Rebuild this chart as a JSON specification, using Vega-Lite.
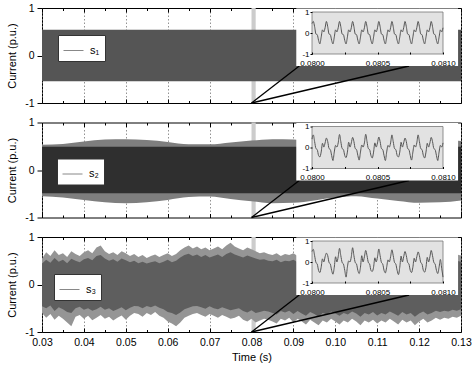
{
"$schema": "https://vega.github.io/schema/vega-lite/v6.json",
"padding": {"left": 6, "top": 2, "right": 0, "bottom": 0},
"spacing": 19.5,
"bounds": "flush",
"resolve": {"scale": {"color": "independent"}, "legend": {"color": "independent"}},
"config": {
  "font": "Liberation Sans",
  "view": {"stroke": "#000000", "strokeWidth": 1},
  "axis": {"labelFont": "Liberation Sans", "titleFont": "Liberation Sans", "labelColor": "#000000", "titleColor": "#000000", "tickColor": "#000000", "domainColor": "#000000", "titleFontWeight": "normal", "labelFontSize": 10.5, "titleFontSize": 11},
  "legend": {"labelFont": "Liberation Sans", "labelColor": "#000000"}
},
"datasets": {
  "zoom": [{"t0": 0.08, "t1": 0.081}],
  "links": [{"x": 0.08, "y": -1, "x2": 0.0914, "y2": -0.221}, {"x": 0.08, "y": -1, "x2": 0.1176, "y2": -0.221}],
  "box": [{"x": 0.07988, "x2": 0.081115, "y": 1.162, "y2": -1.571}],
  "bg": [{"x": 0.08, "x2": 0.081, "y": 1, "y2": -1}],
  "p1": [{"t": 0.03, "hi": 0.54, "lo": -0.54}, {"t": 0.13, "hi": 0.54, "lo": -0.54}],
  "p2c": [{"t": 0.03, "hi": 0.49, "lo": -0.49}, {"t": 0.13, "hi": 0.49, "lo": -0.49}],
  "p2e": [
    {"t": 0.030, "hi": 0.53, "lo": -0.55}, {"t": 0.035, "hi": 0.55, "lo": -0.58}, {"t": 0.040, "hi": 0.60, "lo": -0.63},
    {"t": 0.045, "hi": 0.64, "lo": -0.68}, {"t": 0.050, "hi": 0.65, "lo": -0.70}, {"t": 0.055, "hi": 0.63, "lo": -0.68},
    {"t": 0.060, "hi": 0.59, "lo": -0.63}, {"t": 0.065, "hi": 0.54, "lo": -0.57}, {"t": 0.070, "hi": 0.54, "lo": -0.56},
    {"t": 0.075, "hi": 0.58, "lo": -0.61}, {"t": 0.080, "hi": 0.62, "lo": -0.66}, {"t": 0.085, "hi": 0.65, "lo": -0.70},
    {"t": 0.090, "hi": 0.64, "lo": -0.69}, {"t": 0.095, "hi": 0.60, "lo": -0.64}, {"t": 0.100, "hi": 0.55, "lo": -0.58},
    {"t": 0.105, "hi": 0.53, "lo": -0.55}, {"t": 0.110, "hi": 0.57, "lo": -0.60}, {"t": 0.115, "hi": 0.61, "lo": -0.65},
    {"t": 0.120, "hi": 0.65, "lo": -0.69}, {"t": 0.125, "hi": 0.64, "lo": -0.68}, {"t": 0.130, "hi": 0.61, "lo": -0.64}
  ],
  "p3": [
    {"t": 0.030, "a": 0.55, "b": 0.44, "c": -0.46, "d": -0.60}, {"t": 0.031, "a": 0.68, "b": 0.52, "c": -0.50, "d": -0.70},
    {"t": 0.032, "a": 0.60, "b": 0.46, "c": -0.44, "d": -0.62}, {"t": 0.033, "a": 0.72, "b": 0.56, "c": -0.56, "d": -0.74},
    {"t": 0.034, "a": 0.62, "b": 0.48, "c": -0.48, "d": -0.66}, {"t": 0.035, "a": 0.66, "b": 0.52, "c": -0.52, "d": -0.72},
    {"t": 0.036, "a": 0.58, "b": 0.45, "c": -0.58, "d": -0.80}, {"t": 0.037, "a": 0.70, "b": 0.54, "c": -0.60, "d": -0.88},
    {"t": 0.038, "a": 0.64, "b": 0.50, "c": -0.50, "d": -0.68}, {"t": 0.039, "a": 0.60, "b": 0.47, "c": -0.47, "d": -0.64},
    {"t": 0.040, "a": 0.68, "b": 0.53, "c": -0.53, "d": -0.72}, {"t": 0.041, "a": 0.72, "b": 0.56, "c": -0.50, "d": -0.66},
    {"t": 0.042, "a": 0.66, "b": 0.51, "c": -0.55, "d": -0.75}, {"t": 0.043, "a": 0.78, "b": 0.60, "c": -0.52, "d": -0.70},
    {"t": 0.044, "a": 0.82, "b": 0.62, "c": -0.47, "d": -0.64}, {"t": 0.045, "a": 0.70, "b": 0.55, "c": -0.53, "d": -0.72},
    {"t": 0.046, "a": 0.64, "b": 0.50, "c": -0.50, "d": -0.68}, {"t": 0.047, "a": 0.68, "b": 0.53, "c": -0.56, "d": -0.76},
    {"t": 0.048, "a": 0.62, "b": 0.48, "c": -0.52, "d": -0.70}, {"t": 0.049, "a": 0.70, "b": 0.55, "c": -0.48, "d": -0.65},
    {"t": 0.050, "a": 0.66, "b": 0.51, "c": -0.54, "d": -0.74}, {"t": 0.051, "a": 0.60, "b": 0.47, "c": -0.49, "d": -0.66},
    {"t": 0.052, "a": 0.64, "b": 0.50, "c": -0.45, "d": -0.60}, {"t": 0.053, "a": 0.58, "b": 0.45, "c": -0.46, "d": -0.62},
    {"t": 0.054, "a": 0.62, "b": 0.48, "c": -0.50, "d": -0.68}, {"t": 0.055, "a": 0.56, "b": 0.44, "c": -0.45, "d": -0.60},
    {"t": 0.056, "a": 0.60, "b": 0.47, "c": -0.48, "d": -0.64}, {"t": 0.057, "a": 0.63, "b": 0.49, "c": -0.44, "d": -0.58},
    {"t": 0.058, "a": 0.58, "b": 0.45, "c": -0.49, "d": -0.66}, {"t": 0.059, "a": 0.62, "b": 0.48, "c": -0.52, "d": -0.70},
    {"t": 0.060, "a": 0.66, "b": 0.52, "c": -0.58, "d": -0.78}, {"t": 0.061, "a": 0.60, "b": 0.47, "c": -0.60, "d": -0.82},
    {"t": 0.062, "a": 0.64, "b": 0.50, "c": -0.64, "d": -0.88}, {"t": 0.063, "a": 0.72, "b": 0.57, "c": -0.59, "d": -0.80},
    {"t": 0.064, "a": 0.78, "b": 0.62, "c": -0.52, "d": -0.70}, {"t": 0.065, "a": 0.82, "b": 0.65, "c": -0.49, "d": -0.66},
    {"t": 0.066, "a": 0.76, "b": 0.60, "c": -0.46, "d": -0.62}, {"t": 0.067, "a": 0.80, "b": 0.63, "c": -0.45, "d": -0.60},
    {"t": 0.068, "a": 0.74, "b": 0.58, "c": -0.48, "d": -0.64}, {"t": 0.069, "a": 0.78, "b": 0.62, "c": -0.51, "d": -0.68},
    {"t": 0.070, "a": 0.72, "b": 0.57, "c": -0.46, "d": -0.62}, {"t": 0.071, "a": 0.76, "b": 0.60, "c": -0.50, "d": -0.66},
    {"t": 0.072, "a": 0.80, "b": 0.63, "c": -0.52, "d": -0.70}, {"t": 0.073, "a": 0.74, "b": 0.58, "c": -0.48, "d": -0.64},
    {"t": 0.074, "a": 0.82, "b": 0.64, "c": -0.51, "d": -0.68}, {"t": 0.075, "a": 0.88, "b": 0.68, "c": -0.54, "d": -0.72},
    {"t": 0.076, "a": 0.80, "b": 0.63, "c": -0.52, "d": -0.70}, {"t": 0.077, "a": 0.76, "b": 0.60, "c": -0.50, "d": -0.66},
    {"t": 0.078, "a": 0.72, "b": 0.57, "c": -0.56, "d": -0.74}, {"t": 0.079, "a": 0.78, "b": 0.61, "c": -0.59, "d": -0.78},
    {"t": 0.080, "a": 0.74, "b": 0.58, "c": -0.54, "d": -0.72}, {"t": 0.081, "a": 0.70, "b": 0.55, "c": -0.60, "d": -0.80},
    {"t": 0.082, "a": 0.66, "b": 0.52, "c": -0.58, "d": -0.76}, {"t": 0.083, "a": 0.68, "b": 0.53, "c": -0.55, "d": -0.72},
    {"t": 0.084, "a": 0.64, "b": 0.50, "c": -0.57, "d": -0.74}, {"t": 0.085, "a": 0.62, "b": 0.49, "c": -0.60, "d": -0.78},
    {"t": 0.086, "a": 0.66, "b": 0.52, "c": -0.63, "d": -0.82}, {"t": 0.087, "a": 0.60, "b": 0.47, "c": -0.56, "d": -0.72},
    {"t": 0.088, "a": 0.64, "b": 0.50, "c": -0.59, "d": -0.76}, {"t": 0.089, "a": 0.62, "b": 0.49, "c": -0.55, "d": -0.70},
    {"t": 0.090, "a": 0.66, "b": 0.52, "c": -0.62, "d": -0.80}, {"t": 0.091, "a": 0.60, "b": 0.47, "c": -0.56, "d": -0.72},
    {"t": 0.092, "a": 0.64, "b": 0.50, "c": -0.61, "d": -0.78}, {"t": 0.093, "a": 0.62, "b": 0.49, "c": -0.66, "d": -0.84},
    {"t": 0.094, "a": 0.60, "b": 0.47, "c": -0.58, "d": -0.74}, {"t": 0.095, "a": 0.64, "b": 0.50, "c": -0.62, "d": -0.80},
    {"t": 0.096, "a": 0.62, "b": 0.49, "c": -0.68, "d": -0.86}, {"t": 0.097, "a": 0.60, "b": 0.47, "c": -0.60, "d": -0.76},
    {"t": 0.098, "a": 0.63, "b": 0.50, "c": -0.63, "d": -0.80}, {"t": 0.099, "a": 0.61, "b": 0.48, "c": -0.57, "d": -0.72},
    {"t": 0.100, "a": 0.64, "b": 0.50, "c": -0.61, "d": -0.78}, {"t": 0.101, "a": 0.60, "b": 0.47, "c": -0.66, "d": -0.84},
    {"t": 0.102, "a": 0.63, "b": 0.50, "c": -0.60, "d": -0.76}, {"t": 0.103, "a": 0.61, "b": 0.48, "c": -0.63, "d": -0.80},
    {"t": 0.104, "a": 0.64, "b": 0.50, "c": -0.57, "d": -0.72}, {"t": 0.105, "a": 0.62, "b": 0.49, "c": -0.61, "d": -0.78},
    {"t": 0.106, "a": 0.60, "b": 0.47, "c": -0.68, "d": -0.86}, {"t": 0.107, "a": 0.63, "b": 0.50, "c": -0.60, "d": -0.76},
    {"t": 0.108, "a": 0.61, "b": 0.48, "c": -0.63, "d": -0.80}, {"t": 0.109, "a": 0.64, "b": 0.50, "c": -0.58, "d": -0.74},
    {"t": 0.110, "a": 0.62, "b": 0.49, "c": -0.65, "d": -0.82}, {"t": 0.111, "a": 0.60, "b": 0.47, "c": -0.60, "d": -0.76},
    {"t": 0.112, "a": 0.63, "b": 0.50, "c": -0.63, "d": -0.80}, {"t": 0.113, "a": 0.61, "b": 0.48, "c": -0.57, "d": -0.72},
    {"t": 0.114, "a": 0.64, "b": 0.50, "c": -0.61, "d": -0.78}, {"t": 0.115, "a": 0.62, "b": 0.49, "c": -0.66, "d": -0.84},
    {"t": 0.116, "a": 0.60, "b": 0.47, "c": -0.58, "d": -0.74}, {"t": 0.117, "a": 0.63, "b": 0.50, "c": -0.63, "d": -0.80},
    {"t": 0.118, "a": 0.61, "b": 0.48, "c": -0.60, "d": -0.76}, {"t": 0.119, "a": 0.64, "b": 0.50, "c": -0.68, "d": -0.86},
    {"t": 0.120, "a": 0.62, "b": 0.49, "c": -0.61, "d": -0.78}, {"t": 0.121, "a": 0.60, "b": 0.47, "c": -0.57, "d": -0.72},
    {"t": 0.122, "a": 0.63, "b": 0.50, "c": -0.63, "d": -0.80}, {"t": 0.123, "a": 0.61, "b": 0.48, "c": -0.60, "d": -0.76},
    {"t": 0.124, "a": 0.64, "b": 0.50, "c": -0.55, "d": -0.70}, {"t": 0.125, "a": 0.62, "b": 0.49, "c": -0.58, "d": -0.74},
    {"t": 0.126, "a": 0.66, "b": 0.52, "c": -0.55, "d": -0.70}, {"t": 0.127, "a": 0.62, "b": 0.49, "c": -0.57, "d": -0.72},
    {"t": 0.128, "a": 0.60, "b": 0.47, "c": -0.53, "d": -0.68}, {"t": 0.129, "a": 0.63, "b": 0.50, "c": -0.55, "d": -0.70},
    {"t": 0.130, "a": 0.61, "b": 0.48, "c": -0.52, "d": -0.66}
  ],
  "in1": [
    {"t": 0.08, "v": 0.45},
    {"t": 0.08001, "v": 0.55}, {"t": 0.08002, "v": 0.3}, {"t": 0.08003, "v": -0.05}, {"t": 0.08004, "v": -0.08}, {"t": 0.08005, "v": -0.35}, {"t": 0.08006, "v": -0.52}, {"t": 0.08007, "v": -0.2}, {"t": 0.08008, "v": 0.15}, {"t": 0.08009, "v": 0.05}, {"t": 0.0801, "v": 0.25},
    {"t": 0.08011, "v": 0.55}, {"t": 0.08012, "v": 0.3}, {"t": 0.08013, "v": -0.05}, {"t": 0.08014, "v": -0.08}, {"t": 0.08015, "v": -0.35}, {"t": 0.08016, "v": -0.52}, {"t": 0.08017, "v": -0.2}, {"t": 0.08018, "v": 0.15}, {"t": 0.08019, "v": 0.05}, {"t": 0.0802, "v": 0.25},
    {"t": 0.08021, "v": 0.55}, {"t": 0.08022, "v": 0.3}, {"t": 0.08023, "v": -0.05}, {"t": 0.08024, "v": -0.08}, {"t": 0.08025, "v": -0.35}, {"t": 0.08026, "v": -0.52}, {"t": 0.08027, "v": -0.2}, {"t": 0.08028, "v": 0.15}, {"t": 0.08029, "v": 0.05}, {"t": 0.0803, "v": 0.25},
    {"t": 0.08031, "v": 0.55}, {"t": 0.08032, "v": 0.3}, {"t": 0.08033, "v": -0.05}, {"t": 0.08034, "v": -0.08}, {"t": 0.08035, "v": -0.35}, {"t": 0.08036, "v": -0.52}, {"t": 0.08037, "v": -0.2}, {"t": 0.08038, "v": 0.15}, {"t": 0.08039, "v": 0.05}, {"t": 0.0804, "v": 0.25},
    {"t": 0.08041, "v": 0.55}, {"t": 0.08042, "v": 0.3}, {"t": 0.08043, "v": -0.05}, {"t": 0.08044, "v": -0.08}, {"t": 0.08045, "v": -0.35}, {"t": 0.08046, "v": -0.52}, {"t": 0.08047, "v": -0.2}, {"t": 0.08048, "v": 0.15}, {"t": 0.08049, "v": 0.05}, {"t": 0.0805, "v": 0.25},
    {"t": 0.08051, "v": 0.55}, {"t": 0.08052, "v": 0.3}, {"t": 0.08053, "v": -0.05}, {"t": 0.08054, "v": -0.08}, {"t": 0.08055, "v": -0.35}, {"t": 0.08056, "v": -0.52}, {"t": 0.08057, "v": -0.2}, {"t": 0.08058, "v": 0.15}, {"t": 0.08059, "v": 0.05}, {"t": 0.0806, "v": 0.25},
    {"t": 0.08061, "v": 0.55}, {"t": 0.08062, "v": 0.3}, {"t": 0.08063, "v": -0.05}, {"t": 0.08064, "v": -0.08}, {"t": 0.08065, "v": -0.35}, {"t": 0.08066, "v": -0.52}, {"t": 0.08067, "v": -0.2}, {"t": 0.08068, "v": 0.15}, {"t": 0.08069, "v": 0.05}, {"t": 0.0807, "v": 0.25},
    {"t": 0.08071, "v": 0.55}, {"t": 0.08072, "v": 0.3}, {"t": 0.08073, "v": -0.05}, {"t": 0.08074, "v": -0.08}, {"t": 0.08075, "v": -0.35}, {"t": 0.08076, "v": -0.52}, {"t": 0.08077, "v": -0.2}, {"t": 0.08078, "v": 0.15}, {"t": 0.08079, "v": 0.05}, {"t": 0.0808, "v": 0.25},
    {"t": 0.08081, "v": 0.55}, {"t": 0.08082, "v": 0.3}, {"t": 0.08083, "v": -0.05}, {"t": 0.08084, "v": -0.08}, {"t": 0.08085, "v": -0.35}, {"t": 0.08086, "v": -0.52}, {"t": 0.08087, "v": -0.2}, {"t": 0.08088, "v": 0.15}, {"t": 0.08089, "v": 0.05}, {"t": 0.0809, "v": 0.25},
    {"t": 0.08091, "v": 0.55}, {"t": 0.08092, "v": 0.3}, {"t": 0.08093, "v": -0.05}, {"t": 0.08094, "v": -0.08}, {"t": 0.08095, "v": -0.35}, {"t": 0.08096, "v": -0.52}, {"t": 0.08097, "v": -0.2}, {"t": 0.08098, "v": 0.15}, {"t": 0.08099, "v": 0.05}, {"t": 0.081, "v": 0.25}
  ],
  "in2": [
    {"t": 0.08, "v": 0.4},
    {"t": 0.08001, "v": 0.6}, {"t": 0.08002, "v": 0.28}, {"t": 0.08003, "v": -0.05}, {"t": 0.08004, "v": -0.1}, {"t": 0.08005, "v": -0.38}, {"t": 0.08006, "v": -0.45}, {"t": 0.08007, "v": -0.22}, {"t": 0.08008, "v": 0.2}, {"t": 0.08009, "v": 0.02}, {"t": 0.0801, "v": 0.22},
    {"t": 0.08011, "v": 0.45}, {"t": 0.08012, "v": 0.28}, {"t": 0.08013, "v": -0.05}, {"t": 0.08014, "v": -0.1}, {"t": 0.08015, "v": -0.38}, {"t": 0.08016, "v": -0.62}, {"t": 0.08017, "v": -0.22}, {"t": 0.08018, "v": 0.1}, {"t": 0.08019, "v": 0.02}, {"t": 0.0802, "v": 0.22},
    {"t": 0.08021, "v": 0.62}, {"t": 0.08022, "v": 0.28}, {"t": 0.08023, "v": -0.05}, {"t": 0.08024, "v": -0.1}, {"t": 0.08025, "v": -0.38}, {"t": 0.08026, "v": -0.48}, {"t": 0.08027, "v": -0.22}, {"t": 0.08028, "v": 0.25}, {"t": 0.08029, "v": 0.02}, {"t": 0.0803, "v": 0.22},
    {"t": 0.08031, "v": 0.48}, {"t": 0.08032, "v": 0.28}, {"t": 0.08033, "v": -0.05}, {"t": 0.08034, "v": -0.1}, {"t": 0.08035, "v": -0.38}, {"t": 0.08036, "v": -0.6}, {"t": 0.08037, "v": -0.22}, {"t": 0.08038, "v": 0.12}, {"t": 0.08039, "v": 0.02}, {"t": 0.0804, "v": 0.22},
    {"t": 0.08041, "v": 0.63}, {"t": 0.08042, "v": 0.28}, {"t": 0.08043, "v": -0.05}, {"t": 0.08044, "v": -0.1}, {"t": 0.08045, "v": -0.38}, {"t": 0.08046, "v": -0.5}, {"t": 0.08047, "v": -0.22}, {"t": 0.08048, "v": 0.22}, {"t": 0.08049, "v": 0.02}, {"t": 0.0805, "v": 0.22},
    {"t": 0.08051, "v": 0.5}, {"t": 0.08052, "v": 0.28}, {"t": 0.08053, "v": -0.05}, {"t": 0.08054, "v": -0.1}, {"t": 0.08055, "v": -0.38}, {"t": 0.08056, "v": -0.62}, {"t": 0.08057, "v": -0.22}, {"t": 0.08058, "v": 0.1}, {"t": 0.08059, "v": 0.02}, {"t": 0.0806, "v": 0.22},
    {"t": 0.08061, "v": 0.6}, {"t": 0.08062, "v": 0.28}, {"t": 0.08063, "v": -0.05}, {"t": 0.08064, "v": -0.1}, {"t": 0.08065, "v": -0.38}, {"t": 0.08066, "v": -0.45}, {"t": 0.08067, "v": -0.22}, {"t": 0.08068, "v": 0.25}, {"t": 0.08069, "v": 0.02}, {"t": 0.0807, "v": 0.22},
    {"t": 0.08071, "v": 0.45}, {"t": 0.08072, "v": 0.28}, {"t": 0.08073, "v": -0.05}, {"t": 0.08074, "v": -0.1}, {"t": 0.08075, "v": -0.38}, {"t": 0.08076, "v": -0.6}, {"t": 0.08077, "v": -0.22}, {"t": 0.08078, "v": 0.12}, {"t": 0.08079, "v": 0.02}, {"t": 0.0808, "v": 0.22},
    {"t": 0.08081, "v": 0.6}, {"t": 0.08082, "v": 0.28}, {"t": 0.08083, "v": -0.05}, {"t": 0.08084, "v": -0.1}, {"t": 0.08085, "v": -0.38}, {"t": 0.08086, "v": -0.5}, {"t": 0.08087, "v": -0.22}, {"t": 0.08088, "v": 0.2}, {"t": 0.08089, "v": 0.02}, {"t": 0.0809, "v": 0.22},
    {"t": 0.08091, "v": 0.48}, {"t": 0.08092, "v": 0.28}, {"t": 0.08093, "v": -0.05}, {"t": 0.08094, "v": -0.1}, {"t": 0.08095, "v": -0.38}, {"t": 0.08096, "v": -0.62}, {"t": 0.08097, "v": -0.22}, {"t": 0.08098, "v": 0.1}, {"t": 0.08099, "v": 0.02}, {"t": 0.081, "v": 0.22}
  ],
  "in3": [
    {"t": 0.08, "v": 0.5},
    {"t": 0.08001, "v": 0.6}, {"t": 0.08002, "v": 0.3}, {"t": 0.08003, "v": -0.02}, {"t": 0.08004, "v": -0.1}, {"t": 0.08005, "v": -0.4}, {"t": 0.08006, "v": -0.5}, {"t": 0.08007, "v": -0.25}, {"t": 0.08008, "v": 0.15}, {"t": 0.08009, "v": 0.0}, {"t": 0.0801, "v": 0.25},
    {"t": 0.08011, "v": 0.42}, {"t": 0.08012, "v": 0.3}, {"t": 0.08013, "v": -0.02}, {"t": 0.08014, "v": -0.1}, {"t": 0.08015, "v": -0.4}, {"t": 0.08016, "v": -0.58}, {"t": 0.08017, "v": -0.25}, {"t": 0.08018, "v": 0.25}, {"t": 0.08019, "v": 0.0}, {"t": 0.0802, "v": 0.25},
    {"t": 0.08021, "v": 0.65}, {"t": 0.08022, "v": 0.3}, {"t": 0.08023, "v": -0.02}, {"t": 0.08024, "v": -0.1}, {"t": 0.08025, "v": -0.4}, {"t": 0.08026, "v": -0.72}, {"t": 0.08027, "v": -0.25}, {"t": 0.08028, "v": 0.05}, {"t": 0.08029, "v": 0.0}, {"t": 0.0803, "v": 0.25},
    {"t": 0.08031, "v": 0.68}, {"t": 0.08032, "v": 0.3}, {"t": 0.08033, "v": -0.02}, {"t": 0.08034, "v": -0.1}, {"t": 0.08035, "v": -0.4}, {"t": 0.08036, "v": -0.55}, {"t": 0.08037, "v": -0.25}, {"t": 0.08038, "v": 0.3}, {"t": 0.08039, "v": 0.0}, {"t": 0.0804, "v": 0.25},
    {"t": 0.08041, "v": 0.55}, {"t": 0.08042, "v": 0.3}, {"t": 0.08043, "v": -0.02}, {"t": 0.08044, "v": -0.1}, {"t": 0.08045, "v": -0.4}, {"t": 0.08046, "v": -0.45}, {"t": 0.08047, "v": -0.25}, {"t": 0.08048, "v": 0.2}, {"t": 0.08049, "v": 0.0}, {"t": 0.0805, "v": 0.25},
    {"t": 0.08051, "v": 0.62}, {"t": 0.08052, "v": 0.3}, {"t": 0.08053, "v": -0.02}, {"t": 0.08054, "v": -0.1}, {"t": 0.08055, "v": -0.4}, {"t": 0.08056, "v": -0.52}, {"t": 0.08057, "v": -0.25}, {"t": 0.08058, "v": 0.1}, {"t": 0.08059, "v": 0.0}, {"t": 0.0806, "v": 0.25},
    {"t": 0.08061, "v": 0.58}, {"t": 0.08062, "v": 0.3}, {"t": 0.08063, "v": -0.02}, {"t": 0.08064, "v": -0.1}, {"t": 0.08065, "v": -0.4}, {"t": 0.08066, "v": -0.6}, {"t": 0.08067, "v": -0.25}, {"t": 0.08068, "v": 0.28}, {"t": 0.08069, "v": 0.0}, {"t": 0.0807, "v": 0.25},
    {"t": 0.08071, "v": 0.5}, {"t": 0.08072, "v": 0.3}, {"t": 0.08073, "v": -0.02}, {"t": 0.08074, "v": -0.1}, {"t": 0.08075, "v": -0.4}, {"t": 0.08076, "v": -0.5}, {"t": 0.08077, "v": -0.25}, {"t": 0.08078, "v": 0.18}, {"t": 0.08079, "v": 0.0}, {"t": 0.0808, "v": 0.25},
    {"t": 0.08081, "v": 0.48}, {"t": 0.08082, "v": 0.3}, {"t": 0.08083, "v": -0.02}, {"t": 0.08084, "v": -0.1}, {"t": 0.08085, "v": -0.4}, {"t": 0.08086, "v": -0.48}, {"t": 0.08087, "v": -0.25}, {"t": 0.08088, "v": 0.22}, {"t": 0.08089, "v": 0.0}, {"t": 0.0809, "v": 0.25},
    {"t": 0.08091, "v": 0.55}, {"t": 0.08092, "v": 0.3}, {"t": 0.08093, "v": -0.02}, {"t": 0.08094, "v": -0.1}, {"t": 0.08095, "v": -0.4}, {"t": 0.08096, "v": -0.55}, {"t": 0.08097, "v": -0.25}, {"t": 0.08098, "v": 0.12}, {"t": 0.08099, "v": -0.3}, {"t": 0.081, "v": -0.72}
  ]
},
"vconcat": [
  {
    "width": 419, "height": 95,
    "resolve": {"scale": {"x": "independent", "y": "independent"}},
    "layer": [
      {"layer": [
        {"data": {"name": "zoom"}, "mark": {"type": "rect", "color": "#cccccc"},
         "encoding": {
           "x": {"field": "t0", "type": "quantitative", "scale": {"domain": [0.03, 0.13], "nice": false, "zero": false},
                 "axis": {"orient": "top", "values": [0.03,0.035,0.04,0.045,0.05,0.055,0.06,0.065,0.07,0.075,0.08,0.085,0.09,0.095,0.1,0.105,0.11,0.115,0.12,0.125,0.13], "labels": false, "title": null, "domain": false, "grid": false, "tickSize": {"condition": {"test": "round(datum.value*1000)%10==0", "value": -4}, "value": -2.5}}},
           "x2": {"field": "t1"},
           "y": {"datum": 1, "type": "quantitative", "scale": {"domain": [-1, 1], "nice": false, "zero": false},
                 "axis": {"orient": "left", "values": [-1,-0.5,0,0.5,1], "labelExpr": "datum.value==1?'1':datum.value==0?'0':datum.value==-1?'-1':''", "tickSize": {"condition": {"test": "abs(datum.value)==0.5", "value": 3}, "value": 5}, "labelPadding": 3, "domain": false, "grid": false, "title": "Current (p.u.)", "titlePadding": 7}},
           "y2": {"datum": -1}
         }},
        {"data": {"name": "p1"}, "mark": {"type": "area"},
         "encoding": {
           "x": {"field": "t", "type": "quantitative",
                 "axis": {"orient": "bottom", "values": [0.03,0.035,0.04,0.045,0.05,0.055,0.06,0.065,0.07,0.075,0.08,0.085,0.09,0.095,0.1,0.105,0.11,0.115,0.12,0.125,0.13], "labels": false, "title": null, "domain": false, "grid": true, "gridDash": [1.5, 2], "gridColor": "#777777", "gridWidth": 0.8, "gridOpacity": {"condition": {"test": "round(datum.value*1000)%10==0", "value": 1}, "value": 0}, "tickSize": {"condition": {"test": "round(datum.value*1000)%10==0", "value": -4}, "value": -2.5}}},
           "y": {"field": "hi", "type": "quantitative"},
           "y2": {"field": "lo"},
           "color": {"datum": "s₁", "type": "nominal", "scale": {"range": ["#555555"]},
                     "legend": {"orient": "none", "legendX": 16, "legendY": 27, "title": null, "fillColor": "#ffffff", "strokeColor": "#333333", "padding": 5, "symbolType": "stroke", "symbolSize": 400, "symbolStrokeColor": "#888888", "symbolStrokeWidth": 1, "symbolFillColor": "transparent", "labelFontSize": 11, "labelOffset": 6}}
         }},
        {"data": {"name": "links"}, "mark": {"type": "rule", "color": "#000000", "strokeWidth": 1.3},
         "encoding": {"x": {"field": "x", "type": "quantitative", "axis": null}, "y": {"field": "y", "type": "quantitative"}, "x2": {"field": "x2"}, "y2": {"field": "y2"}}}
      ]},
      {"layer": [
        {"data": {"name": "box"}, "mark": {"type": "rect", "color": "#ffffff"},
         "encoding": {
           "x": {"field": "x", "type": "quantitative", "scale": {"domain": [0.08, 0.081], "range": [270, 401], "nice": false, "zero": false},
                 "axis": {"orient": "bottom", "offset": -49, "values": [0.08, 0.08025, 0.0805, 0.08075, 0.081], "labelExpr": "datum.value==0.08?'0.0800':datum.value==0.0805?'0.0805':datum.value==0.081?'0.0810':''", "tickSize": -2, "labelPadding": 7, "labelFontSize": 8, "labelFlush": false, "domain": false, "grid": false, "title": null, "zindex": 2}},
           "x2": {"field": "x2"},
           "y": {"field": "y", "type": "quantitative", "scale": {"domain": [-1, 1], "range": [46, 4], "nice": false, "zero": false},
                 "axis": {"orient": "left", "offset": -270, "values": [-1, 0, 1], "labelExpr": "datum.value==1?'1':datum.value==0?'0':'-1'", "tickSize": 2, "labelPadding": 1, "labelFontSize": 8, "domain": false, "grid": false, "title": null, "zindex": 2}},
           "y2": {"field": "y2"}
         }},
        {"data": {"name": "bg"}, "mark": {"type": "rect", "fill": "#e2e2e2", "stroke": "#777777", "strokeWidth": 0.8},
         "encoding": {"x": {"field": "x", "type": "quantitative"}, "x2": {"field": "x2"}, "y": {"field": "y", "type": "quantitative"}, "y2": {"field": "y2"}}},
        {"data": {"name": "in1"}, "mark": {"type": "line", "color": "#555555", "strokeWidth": 1, "interpolate": "monotone"},
         "encoding": {"x": {"field": "t", "type": "quantitative"}, "y": {"field": "v", "type": "quantitative"}}}
      ]}
    ]
  },
  {
    "width": 419, "height": 95,
    "resolve": {"scale": {"x": "independent", "y": "independent"}},
    "layer": [
      {"layer": [
        {"data": {"name": "zoom"}, "mark": {"type": "rect", "color": "#cccccc"},
         "encoding": {
           "x": {"field": "t0", "type": "quantitative", "scale": {"domain": [0.03, 0.13], "nice": false, "zero": false},
                 "axis": {"orient": "top", "values": [0.03,0.035,0.04,0.045,0.05,0.055,0.06,0.065,0.07,0.075,0.08,0.085,0.09,0.095,0.1,0.105,0.11,0.115,0.12,0.125,0.13], "labels": false, "title": null, "domain": false, "grid": false, "tickSize": {"condition": {"test": "round(datum.value*1000)%10==0", "value": -4}, "value": -2.5}}},
           "x2": {"field": "t1"},
           "y": {"datum": 1, "type": "quantitative", "scale": {"domain": [-1, 1], "nice": false, "zero": false},
                 "axis": {"orient": "left", "values": [-1,-0.5,0,0.5,1], "labelExpr": "datum.value==1?'1':datum.value==0?'0':datum.value==-1?'-1':''", "tickSize": {"condition": {"test": "abs(datum.value)==0.5", "value": 3}, "value": 5}, "labelPadding": 3, "domain": false, "grid": false, "title": "Current (p.u.)", "titlePadding": 7}},
           "y2": {"datum": -1}
         }},
        {"data": {"name": "p2e"}, "mark": {"type": "area", "interpolate": "monotone"},
         "encoding": {
           "x": {"field": "t", "type": "quantitative",
                 "axis": {"orient": "bottom", "values": [0.03,0.035,0.04,0.045,0.05,0.055,0.06,0.065,0.07,0.075,0.08,0.085,0.09,0.095,0.1,0.105,0.11,0.115,0.12,0.125,0.13], "labels": false, "title": null, "domain": false, "grid": true, "gridDash": [1.5, 2], "gridColor": "#777777", "gridWidth": 0.8, "gridOpacity": {"condition": {"test": "round(datum.value*1000)%10==0", "value": 1}, "value": 0}, "tickSize": {"condition": {"test": "round(datum.value*1000)%10==0", "value": -4}, "value": -2.5}}},
           "y": {"field": "hi", "type": "quantitative"},
           "y2": {"field": "lo"},
           "color": {"datum": "s₂", "type": "nominal", "scale": {"range": ["#7e7e7e"]},
                     "legend": {"orient": "none", "legendX": 15, "legendY": 36, "title": null, "fillColor": "#ffffff", "strokeColor": "#333333", "padding": 5, "symbolType": "stroke", "symbolSize": 400, "symbolStrokeColor": "#888888", "symbolStrokeWidth": 1, "symbolFillColor": "transparent", "labelFontSize": 11, "labelOffset": 6}}
         }},
        {"data": {"name": "p2c"}, "mark": {"type": "area", "color": "#2f2f2f"},
         "encoding": {"x": {"field": "t", "type": "quantitative", "axis": null}, "y": {"field": "hi", "type": "quantitative"}, "y2": {"field": "lo"}}},
        {"data": {"name": "links"}, "mark": {"type": "rule", "color": "#000000", "strokeWidth": 1.3},
         "encoding": {"x": {"field": "x", "type": "quantitative", "axis": null}, "y": {"field": "y", "type": "quantitative"}, "x2": {"field": "x2"}, "y2": {"field": "y2"}}}
      ]},
      {"layer": [
        {"data": {"name": "box"}, "mark": {"type": "rect", "color": "#ffffff"},
         "encoding": {
           "x": {"field": "x", "type": "quantitative", "scale": {"domain": [0.08, 0.081], "range": [270, 401], "nice": false, "zero": false},
                 "axis": {"orient": "bottom", "offset": -49, "values": [0.08, 0.08025, 0.0805, 0.08075, 0.081], "labelExpr": "datum.value==0.08?'0.0800':datum.value==0.0805?'0.0805':datum.value==0.081?'0.0810':''", "tickSize": -2, "labelPadding": 7, "labelFontSize": 8, "labelFlush": false, "domain": false, "grid": false, "title": null, "zindex": 2}},
           "x2": {"field": "x2"},
           "y": {"field": "y", "type": "quantitative", "scale": {"domain": [-1, 1], "range": [46, 4], "nice": false, "zero": false},
                 "axis": {"orient": "left", "offset": -270, "values": [-1, 0, 1], "labelExpr": "datum.value==1?'1':datum.value==0?'0':'-1'", "tickSize": 2, "labelPadding": 1, "labelFontSize": 8, "domain": false, "grid": false, "title": null, "zindex": 2}},
           "y2": {"field": "y2"}
         }},
        {"data": {"name": "bg"}, "mark": {"type": "rect", "fill": "#e2e2e2", "stroke": "#777777", "strokeWidth": 0.8},
         "encoding": {"x": {"field": "x", "type": "quantitative"}, "x2": {"field": "x2"}, "y": {"field": "y", "type": "quantitative"}, "y2": {"field": "y2"}}},
        {"data": {"name": "in2"}, "mark": {"type": "line", "color": "#555555", "strokeWidth": 1, "interpolate": "monotone"},
         "encoding": {"x": {"field": "t", "type": "quantitative"}, "y": {"field": "v", "type": "quantitative"}}}
      ]}
    ]
  },
  {
    "width": 419, "height": 95,
    "resolve": {"scale": {"x": "independent", "y": "independent"}},
    "layer": [
      {"layer": [
        {"data": {"name": "zoom"}, "mark": {"type": "rect", "color": "#cccccc"},
         "encoding": {
           "x": {"field": "t0", "type": "quantitative", "scale": {"domain": [0.03, 0.13], "nice": false, "zero": false},
                 "axis": {"orient": "top", "values": [0.03,0.035,0.04,0.045,0.05,0.055,0.06,0.065,0.07,0.075,0.08,0.085,0.09,0.095,0.1,0.105,0.11,0.115,0.12,0.125,0.13], "labels": false, "title": null, "domain": false, "grid": false, "tickSize": {"condition": {"test": "round(datum.value*1000)%10==0", "value": -4}, "value": -2.5}}},
           "x2": {"field": "t1"},
           "y": {"datum": 1, "type": "quantitative", "scale": {"domain": [-1, 1], "nice": false, "zero": false},
                 "axis": {"orient": "left", "values": [-1,-0.5,0,0.5,1], "labelExpr": "datum.value==1?'1':datum.value==0?'0':datum.value==-1?'-1':''", "tickSize": {"condition": {"test": "abs(datum.value)==0.5", "value": 3}, "value": 5}, "labelPadding": 3, "domain": false, "grid": false, "title": "Current (p.u.)", "titlePadding": 7}},
           "y2": {"datum": -1}
         }},
        {"data": {"name": "p3"}, "mark": {"type": "area"},
         "encoding": {
           "x": {"field": "t", "type": "quantitative",
                 "axis": {"orient": "bottom", "values": [0.03,0.035,0.04,0.045,0.05,0.055,0.06,0.065,0.07,0.075,0.08,0.085,0.09,0.095,0.1,0.105,0.11,0.115,0.12,0.125,0.13], "labelExpr": "round(datum.value*1000)%10==0 ? format(datum.value, '.2f') : ''", "labelPadding": 9, "labelFlush": false, "title": "Time (s)", "titlePadding": 4, "domain": false, "grid": true, "gridDash": [1.5, 2], "gridColor": "#777777", "gridWidth": 0.8, "gridOpacity": {"condition": {"test": "round(datum.value*1000)%10==0", "value": 1}, "value": 0}, "tickSize": {"condition": {"test": "round(datum.value*1000)%10==0", "value": -4}, "value": -2.5}}},
           "y": {"field": "a", "type": "quantitative"},
           "y2": {"field": "d"},
           "color": {"datum": "s₃", "type": "nominal", "scale": {"range": ["#959595"]},
                     "legend": {"orient": "none", "legendX": 12, "legendY": 37, "title": null, "fillColor": "#ffffff", "strokeColor": "#333333", "padding": 5, "symbolType": "stroke", "symbolSize": 400, "symbolStrokeColor": "#888888", "symbolStrokeWidth": 1, "symbolFillColor": "transparent", "labelFontSize": 11, "labelOffset": 6}}
         }},
        {"data": {"name": "p3"}, "mark": {"type": "area", "color": "#5e5e5e"},
         "encoding": {"x": {"field": "t", "type": "quantitative", "axis": null}, "y": {"field": "b", "type": "quantitative"}, "y2": {"field": "c"}}},
        {"data": {"name": "links"}, "mark": {"type": "rule", "color": "#000000", "strokeWidth": 1.3},
         "encoding": {"x": {"field": "x", "type": "quantitative", "axis": null}, "y": {"field": "y", "type": "quantitative"}, "x2": {"field": "x2"}, "y2": {"field": "y2"}}}
      ]},
      {"layer": [
        {"data": {"name": "box"}, "mark": {"type": "rect", "color": "#ffffff"},
         "encoding": {
           "x": {"field": "x", "type": "quantitative", "scale": {"domain": [0.08, 0.081], "range": [270, 401], "nice": false, "zero": false},
                 "axis": {"orient": "bottom", "offset": -49, "values": [0.08, 0.08025, 0.0805, 0.08075, 0.081], "labelExpr": "datum.value==0.08?'0.0800':datum.value==0.0805?'0.0805':datum.value==0.081?'0.0810':''", "tickSize": -2, "labelPadding": 7, "labelFontSize": 8, "labelFlush": false, "domain": false, "grid": false, "title": null, "zindex": 2}},
           "x2": {"field": "x2"},
           "y": {"field": "y", "type": "quantitative", "scale": {"domain": [-1, 1], "range": [46, 4], "nice": false, "zero": false},
                 "axis": {"orient": "left", "offset": -270, "values": [-1, 0, 1], "labelExpr": "datum.value==1?'1':datum.value==0?'0':'-1'", "tickSize": 2, "labelPadding": 1, "labelFontSize": 8, "domain": false, "grid": false, "title": null, "zindex": 2}},
           "y2": {"field": "y2"}
         }},
        {"data": {"name": "bg"}, "mark": {"type": "rect", "fill": "#e2e2e2", "stroke": "#777777", "strokeWidth": 0.8},
         "encoding": {"x": {"field": "x", "type": "quantitative"}, "x2": {"field": "x2"}, "y": {"field": "y", "type": "quantitative"}, "y2": {"field": "y2"}}},
        {"data": {"name": "in3"}, "mark": {"type": "line", "color": "#555555", "strokeWidth": 1, "interpolate": "monotone"},
         "encoding": {"x": {"field": "t", "type": "quantitative"}, "y": {"field": "v", "type": "quantitative"}}}
      ]}
    ]
  }
]
}
